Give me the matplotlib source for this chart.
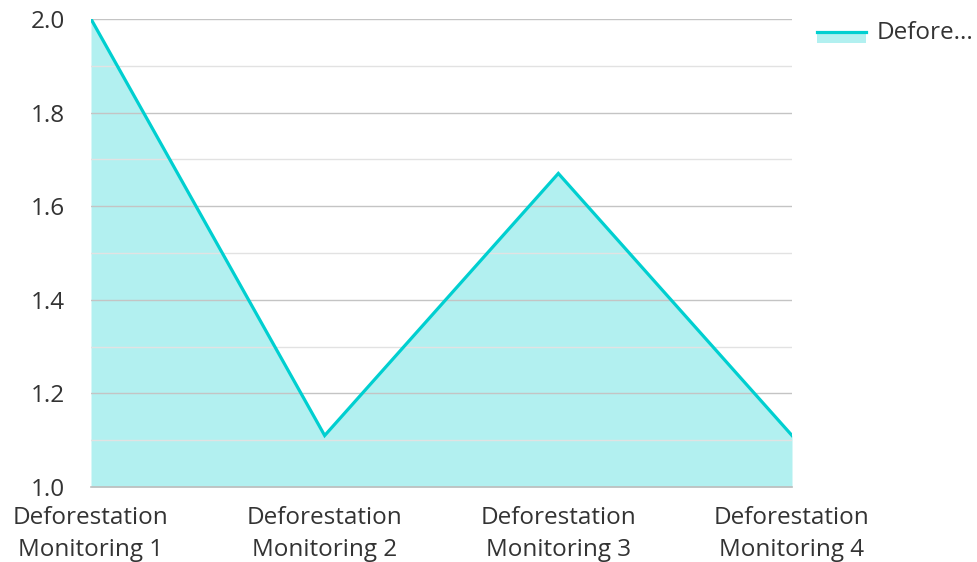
import matplotlib.pyplot as plt
from matplotlib.patches import Rectangle
from matplotlib.lines import Line2D

categories = ['Deforestation\nMonitoring 1', 'Deforestation\nMonitoring 2',
              'Deforestation\nMonitoring 3', 'Deforestation\nMonitoring 4']
values = [2.0, 1.11, 1.67, 1.11]
series_name = 'Defore...'

line_color = '#00cfd0'
text_color = '#333333'

plt.rcParams['font.family'] = ['Open Sans', 'DejaVu Sans']

fig = plt.figure(figsize=(9.78, 5.62), dpi=100)
ax = fig.add_axes([91 / 978, 75 / 562, 701 / 978, 468 / 562])

xs = list(range(len(values)))
ax.fill_between(xs, 1.0, values, color=line_color, alpha=0.3, linewidth=0, zorder=1)
ax.plot(xs, values, color=line_color, linewidth=2.3, zorder=3, solid_joinstyle='miter')

ax.set_xlim(0, len(values) - 1)
ax.set_ylim(1.0, 2.0)
ax.set_yticks([1.0, 1.2, 1.4, 1.6, 1.8, 2.0])
ax.set_yticks([1.1, 1.3, 1.5, 1.7, 1.9], minor=True)
ax.set_yticklabels(['%.1f' % v for v in ax.get_yticks()])
ax.set_xticks(xs)
ax.set_xticklabels(categories, linespacing=1.4)

ax.grid(axis='y', which='major', color='#c4c4c4', linewidth=1, zorder=2)
ax.grid(axis='y', which='minor', color='#e2e2e2', linewidth=1, zorder=2)
ax.set_axisbelow(False)
for side in ['top', 'right', 'left']:
    ax.spines[side].set_visible(False)
ax.spines['bottom'].set_color('#bdbdbd')
ax.spines['bottom'].set_linewidth(1.2)

ax.tick_params(axis='both', which='both', length=0, labelsize=17.5, colors=text_color)
ax.tick_params(axis='y', pad=19)
ax.tick_params(axis='x', pad=14)

# legend drawn by hand: light swatch with the line along its top edge
fig.add_artist(Rectangle((817 / 978, 1 - 43 / 562), 49 / 978, 12 / 562,
                         transform=fig.transFigure, color=line_color, alpha=0.3, lw=0))
fig.add_artist(Line2D([817 / 978, 866 / 978], [1 - 32 / 562, 1 - 32 / 562],
                      transform=fig.transFigure, color=line_color, linewidth=2.3))
fig.text(877 / 978, 1 - 33 / 562, series_name, fontsize=17.5, color=text_color,
         va='center', ha='left')

fig.savefig('out.png', dpi=100)
